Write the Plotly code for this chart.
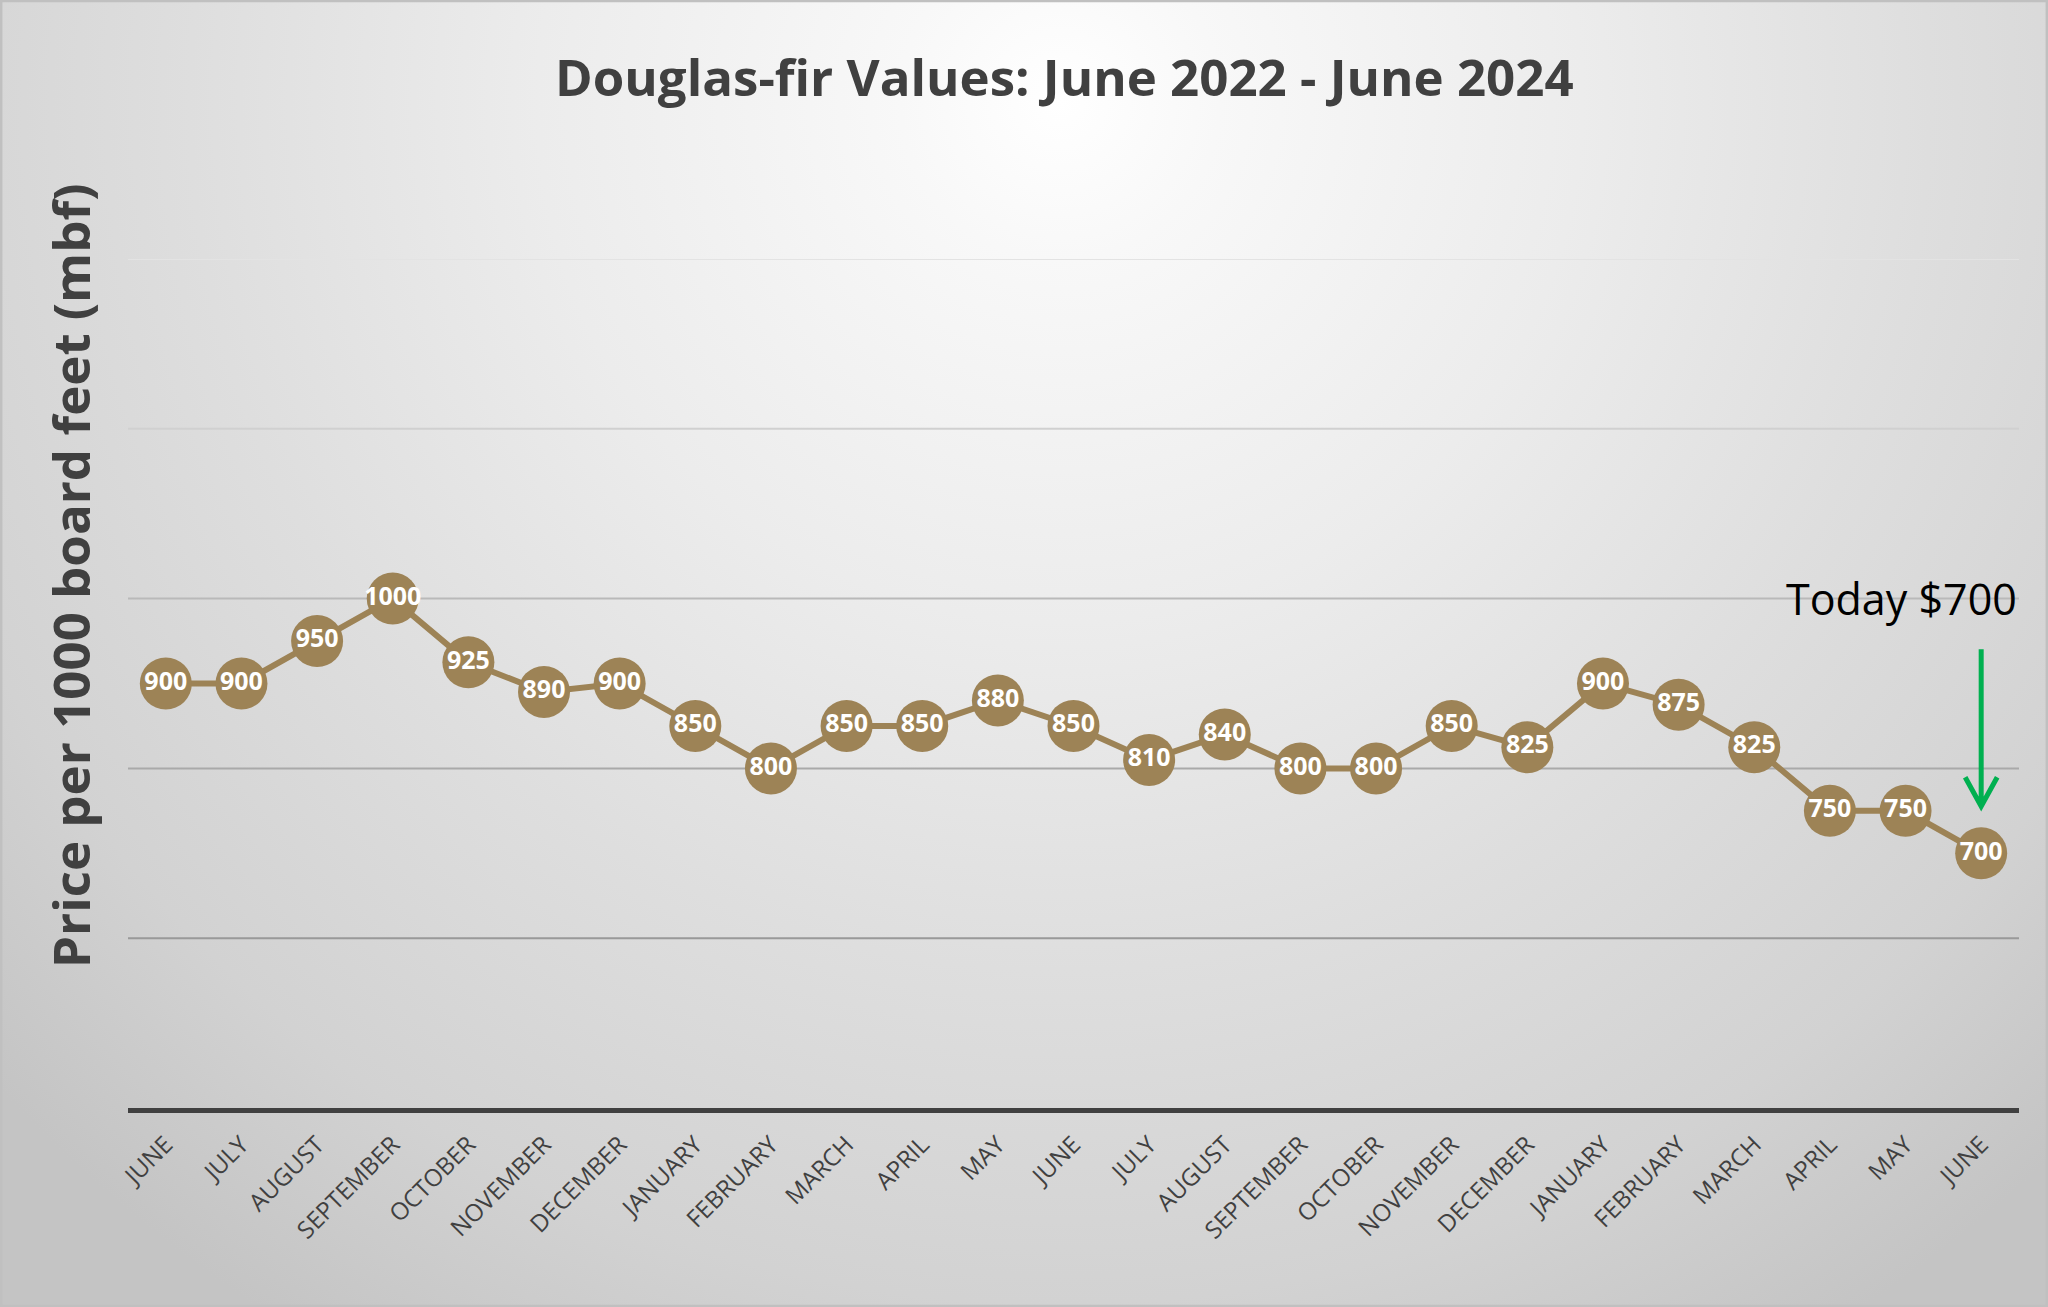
import base64
import plotly.graph_objects as go

# ---- data ----
months = ["JUNE", "JULY", "AUGUST", "SEPTEMBER", "OCTOBER", "NOVEMBER", "DECEMBER",
          "JANUARY", "FEBRUARY", "MARCH", "APRIL", "MAY", "JUNE", "JULY", "AUGUST",
          "SEPTEMBER", "OCTOBER", "NOVEMBER", "DECEMBER", "JANUARY", "FEBRUARY",
          "MARCH", "APRIL", "MAY", "JUNE"]
prices = [900, 900, 950, 1000, 925, 890, 900, 850, 800, 850, 850, 880, 850, 810,
          840, 800, 800, 850, 825, 900, 875, 825, 750, 750, 700]
grid_values = [600, 800, 1000, 1200, 1400]
y_range = [400, 1400]
title_text = "Douglas-fir Values: June 2022 - June 2024"
ytitle_text = "Price per 1000 board feet (mbf)"
callout_text = "Today $700"

# ---- styles ----
W, H = 2048, 1307
ML, MR, MT, MB = 128, 29, 259, 199
PW, PH = W - ML - MR, H - MT - MB
grid_colors = ["#999999", "#a9a9a9", "#b9b9b9", "#d0d0d0", "#e3e3e3"]
brown = "#9d8356"

x_idx = list(range(len(prices)))

svg = f'''<svg xmlns="http://www.w3.org/2000/svg" width="{W}" height="{H}" viewBox="0 0 {W} {H}">
<defs><radialGradient id="g" gradientUnits="userSpaceOnUse" cx="1060" cy="100" r="1450">
<stop offset="0" stop-color="#ffffff"/>
<stop offset="0.11" stop-color="#f8f8f8"/>
<stop offset="0.36" stop-color="#ececec"/>
<stop offset="0.6" stop-color="#dedede"/>
<stop offset="0.83" stop-color="#d2d2d2"/>
<stop offset="1" stop-color="#c4c4c4"/>
</radialGradient></defs>
<rect x="0" y="0" width="{W}" height="{H}" fill="url(#g)"/>
</svg>'''
bg_src = "data:image/svg+xml;base64," + base64.b64encode(svg.encode()).decode()

fig = go.Figure()
fig.add_trace(go.Scatter(
    x=x_idx, y=prices, mode="lines+markers+text",
    text=[str(p) for p in prices], textposition="middle center",
    textfont=dict(family="Open Sans", size=25, color="white", weight="bold"),
    line=dict(color=brown, width=6),
    marker=dict(size=52, color=brown, line=dict(width=0)),
    hoverinfo="skip", showlegend=False, cliponaxis=False,
))

shapes = []
for v, c in zip(grid_values, grid_colors):
    shapes.append(dict(type="line", xref="paper", yref="y", x0=0, x1=1, y0=v, y1=v,
                       line=dict(color=c, width=2), layer="below"))
# border around chart area
shapes.append(dict(type="rect", xref="paper", yref="paper",
                   x0=-ML / PW + 0.0005, x1=1 + MR / PW - 0.0005,
                   y0=-MB / PH + 0.001, y1=1 + MT / PH - 0.001,
                   line=dict(color="#c0c0c0", width=3), fillcolor="rgba(0,0,0,0)", layer="above"))
# green arrow pointing to latest value
last_x, last_y = x_idx[-1], prices[-1]
shapes.append(dict(type="path", xref="x", yref="y", xsizemode="pixel", ysizemode="pixel",
                   xanchor=last_x, yanchor=last_y,
                   path="M 0,47 L 0,204 M -16,76 L 0,47 L 16,76",
                   line=dict(color="#00b050", width=5)))

annotations = [
    dict(text=title_text, xref="paper", yref="paper", x=(1064 - ML) / PW, y=1 + (MT - 76) / PH,
         showarrow=False, xanchor="center", yanchor="middle",
         font=dict(family="Open Sans", size=51, color="#404040", weight="bold")),
    dict(text=ytitle_text, xref="paper", yref="paper", x=(70 - ML) / PW, y=(H - MB - 576) / PH,
         showarrow=False, xanchor="center", yanchor="middle", textangle=-90,
         font=dict(family="Open Sans", size=51, color="#404040", weight="bold")),
    dict(text=callout_text, xref="paper", yref="y", x=1.0, y=1000,
         showarrow=False, xanchor="right", yanchor="middle",
         font=dict(family="Open Sans", size=43, color="#000000")),
]

fig.update_layout(
    width=W, height=H,
    margin=dict(l=ML, r=MR, t=MT, b=MB, autoexpand=False),
    paper_bgcolor="#d8d8d8", plot_bgcolor="rgba(0,0,0,0)",
    shapes=shapes, annotations=annotations,
    images=[dict(source=bg_src, xref="paper", yref="paper", x=-ML / PW, y=1 + MT / PH,
                 sizex=W / PW, sizey=H / PH, sizing="stretch", xanchor="left", yanchor="top",
                 layer="below")],
    xaxis=dict(range=[-0.5, len(prices) - 0.5], tickvals=x_idx, ticktext=months,
               tickangle=-45, tickfont=dict(family="Open Sans", size=24, color="#404040"),
               showgrid=False, zeroline=False, showline=True, linecolor="#404040", linewidth=5,
               ticks="outside", ticklen=8, tickcolor="rgba(0,0,0,0)"),
    yaxis=dict(range=y_range, showticklabels=False, showgrid=False, zeroline=False,
               showline=False),
    showlegend=False,
)

fig.write_html("out.html")
